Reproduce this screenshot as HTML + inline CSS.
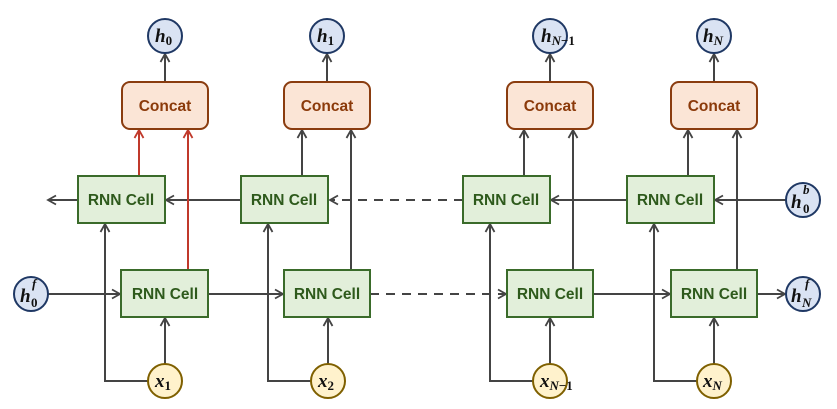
<!DOCTYPE html>
<html><head><style>body{margin:0;background:#fff}svg{display:block}
.c{font-family:"Liberation Sans",sans-serif;font-weight:bold;font-size:15.5px}
.m{font-family:"Liberation Serif",serif;font-weight:bold;font-style:italic}
</style></head><body>
<svg width="837" height="409" viewBox="0 0 837 409" xmlns="http://www.w3.org/2000/svg">
<defs>
<marker id="a" markerWidth="12" markerHeight="12" refX="10" refY="6" orient="auto" markerUnits="userSpaceOnUse"><path d="M2,1.5 L10,6 L2,10.5" fill="none" stroke="#444" stroke-width="1.8"/></marker>
<marker id="r" markerWidth="12" markerHeight="12" refX="10" refY="6" orient="auto" markerUnits="userSpaceOnUse"><path d="M2,1.5 L10,6 L2,10.5" fill="none" stroke="#c0392b" stroke-width="1.8"/></marker>
</defs>
<g stroke="#444" stroke-width="2" fill="none">
<line x1="78" y1="200" x2="48" y2="200" marker-end="url(#a)"/>
<line x1="241" y1="200" x2="166" y2="200" marker-end="url(#a)"/>
<line x1="463" y1="200" x2="330" y2="200" stroke-dasharray="9,7" marker-end="url(#a)"/>
<line x1="627" y1="200" x2="551" y2="200" marker-end="url(#a)"/>
<line x1="786" y1="200" x2="715" y2="200" marker-end="url(#a)"/>
<line x1="48" y1="294" x2="120" y2="294" marker-end="url(#a)"/>
<line x1="208" y1="294" x2="283" y2="294" marker-end="url(#a)"/>
<line x1="370" y1="294" x2="506" y2="294" stroke-dasharray="9,7" marker-end="url(#a)"/>
<line x1="593" y1="294" x2="670" y2="294" marker-end="url(#a)"/>
<line x1="757" y1="294" x2="785" y2="294" marker-end="url(#a)"/>
</g>
<g stroke="#444" stroke-width="2" fill="none">
<path d="M148,381 H105 V224" marker-end="url(#a)"/>
<line x1="165" y1="364" x2="165" y2="318" marker-end="url(#a)"/>
<line x1="165" y1="82" x2="165" y2="54" marker-end="url(#a)"/>
<path d="M311,381 H268 V224" marker-end="url(#a)"/>
<line x1="328" y1="364" x2="328" y2="318" marker-end="url(#a)"/>
<line x1="302" y1="176" x2="302" y2="130" marker-end="url(#a)"/>
<line x1="351" y1="270" x2="351" y2="130" marker-end="url(#a)"/>
<line x1="327" y1="82" x2="327" y2="54" marker-end="url(#a)"/>
<path d="M533,381 H490 V224" marker-end="url(#a)"/>
<line x1="550" y1="364" x2="550" y2="318" marker-end="url(#a)"/>
<line x1="524" y1="176" x2="524" y2="130" marker-end="url(#a)"/>
<line x1="573" y1="270" x2="573" y2="130" marker-end="url(#a)"/>
<line x1="550" y1="82" x2="550" y2="54" marker-end="url(#a)"/>
<path d="M697,381 H654 V224" marker-end="url(#a)"/>
<line x1="714" y1="364" x2="714" y2="318" marker-end="url(#a)"/>
<line x1="688" y1="176" x2="688" y2="130" marker-end="url(#a)"/>
<line x1="737" y1="270" x2="737" y2="130" marker-end="url(#a)"/>
<line x1="714" y1="82" x2="714" y2="54" marker-end="url(#a)"/>
</g>
<g stroke="#c0392b" stroke-width="2">
<line x1="139" y1="176" x2="139" y2="130" marker-end="url(#r)"/>
<line x1="188" y1="270" x2="188" y2="130" marker-end="url(#r)"/>
</g>
<g fill="#fbe5d6" stroke="#8a3c0f" stroke-width="2">
<rect x="122" y="82" width="86" height="47" rx="8"/>
<rect x="284" y="82" width="86" height="47" rx="8"/>
<rect x="507" y="82" width="86" height="47" rx="8"/>
<rect x="671" y="82" width="86" height="47" rx="8"/>
</g>
<g class="c" fill="#8b3a0a" text-anchor="middle">
<text x="165" y="111">Concat</text><text x="327" y="111">Concat</text>
<text x="550" y="111">Concat</text><text x="714" y="111">Concat</text>
</g>
<g fill="#e2efda" stroke="#3a6b2a" stroke-width="2">
<rect x="78" y="176" width="87" height="47"/><rect x="241" y="176" width="87" height="47"/>
<rect x="463" y="176" width="87" height="47"/><rect x="627" y="176" width="87" height="47"/>
<rect x="121" y="270" width="87" height="47"/><rect x="284" y="270" width="86" height="47"/>
<rect x="507" y="270" width="86" height="47"/><rect x="671" y="270" width="86" height="47"/>
</g>
<g class="c" fill="#2e5a1c" text-anchor="middle">
<text x="121" y="205">RNN Cell</text><text x="284" y="205">RNN Cell</text>
<text x="506" y="205">RNN Cell</text><text x="670" y="205">RNN Cell</text>
<text x="165" y="299">RNN Cell</text><text x="327" y="299">RNN Cell</text>
<text x="550" y="299">RNN Cell</text><text x="714" y="299">RNN Cell</text>
</g>
<g fill="#dae3f3" stroke="#1f3864" stroke-width="2">
<circle cx="165" cy="36" r="17"/><circle cx="327" cy="36" r="17"/>
<circle cx="550" cy="36" r="17"/><circle cx="714" cy="36" r="17"/>
<circle cx="31" cy="294" r="17"/><circle cx="803" cy="200" r="17"/><circle cx="803" cy="294" r="17"/>
</g>
<g fill="#fff2cc" stroke="#7f6000" stroke-width="2">
<circle cx="165" cy="381" r="17"/><circle cx="328" cy="381" r="17"/>
<circle cx="550" cy="381" r="17"/><circle cx="714" cy="381" r="17"/>
</g>
<g class="m" fill="#111" font-size="19">
<text x="155" y="42">h<tspan font-size="13" font-style="normal" dy="3">0</tspan></text>
<text x="317" y="42">h<tspan font-size="13" font-style="normal" dy="3">1</tspan></text>
<text x="541" y="42">h<tspan font-size="13" dy="3">N</tspan><tspan font-size="13" font-style="normal">−1</tspan></text>
<text x="703" y="42">h<tspan font-size="13" dy="3">N</tspan></text>
<text x="20" y="302">h</text><text x="32" y="288" font-size="13">f</text><text x="31" y="307" font-size="13" font-style="normal">0</text>
<text x="791" y="208">h</text><text x="803" y="194" font-size="13">b</text><text x="803" y="213" font-size="13" font-style="normal">0</text>
<text x="791" y="302">h</text><text x="805" y="288" font-size="13">f</text><text x="802" y="307" font-size="13">N</text>
<text x="155" y="387">x<tspan font-size="13" font-style="normal" dy="3">1</tspan></text>
<text x="318" y="387">x<tspan font-size="13" font-style="normal" dy="3">2</tspan></text>
<text x="540" y="387">x<tspan font-size="13" dy="3">N</tspan><tspan font-size="13" font-style="normal">−1</tspan></text>
<text x="703" y="387">x<tspan font-size="13" dy="3">N</tspan></text>
</g>
</svg>
</body></html>
